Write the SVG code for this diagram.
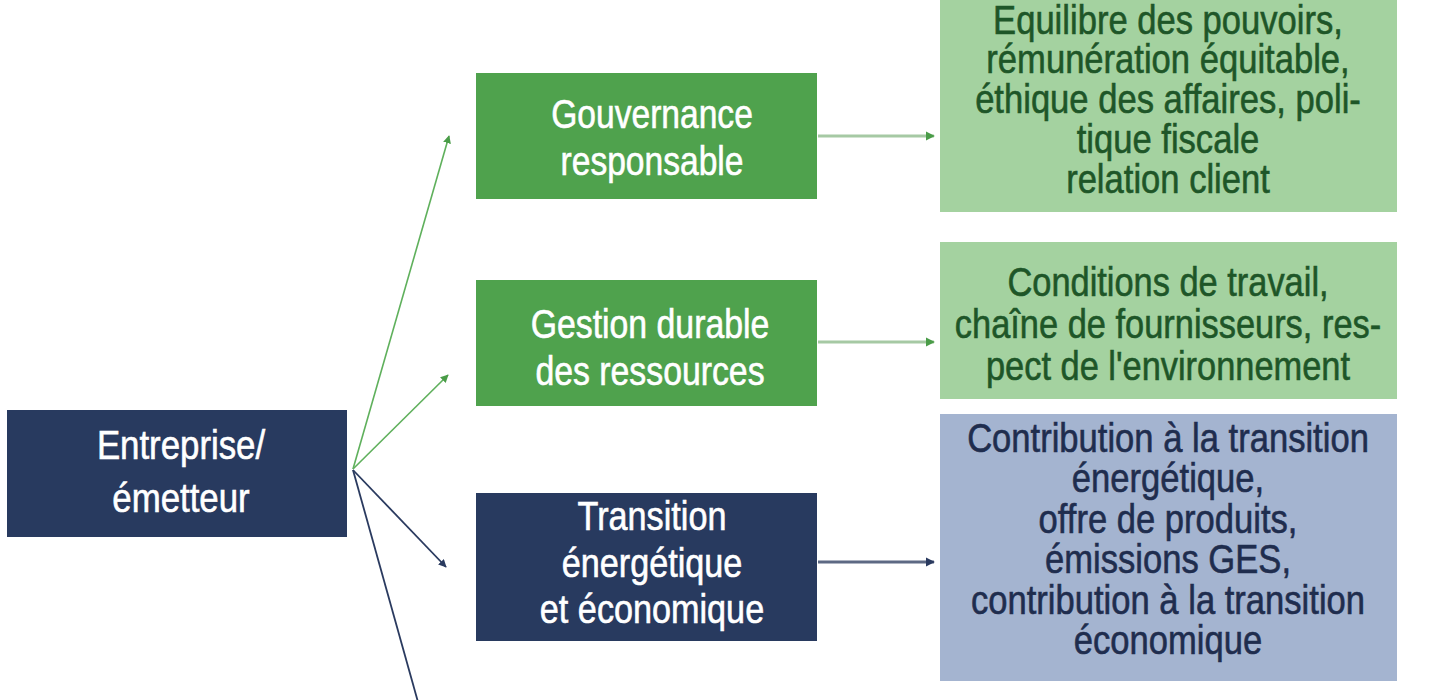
<svg xmlns="http://www.w3.org/2000/svg" width="1440" height="700" viewBox="0 0 1440 700">
<defs>
<style>
text { font-family: "Liberation Sans", Arial, sans-serif; text-anchor: middle; stroke-width: 0.6; }
.navy { fill: #283a5f; }
.green { fill: #4fa24d; }
.lgreen { fill: #a4d2a0; }
.lblue { fill: #a4b4d0; }
.wt { fill: #ffffff; stroke: #ffffff; font-size: 40px; }
.gt { fill: #1e5628; stroke: #1e5628; font-size: 40px; }
.bt { fill: #1f2d4e; stroke: #1f2d4e; font-size: 40px; }
.dg { stroke: #5fb05c; stroke-width: 1.6; fill: none; }
.dn { stroke: #2a3a5f; stroke-width: 1.8; fill: none; }
.hg { stroke: #a6c9a4; stroke-width: 3; fill: none; }
.hn { stroke: #5d6983; stroke-width: 3; fill: none; }
</style>
<marker id="ag" viewBox="0 0 10 10" refX="9" refY="5" markerWidth="8" markerHeight="8" markerUnits="userSpaceOnUse" orient="auto"><path d="M0,0 L10,5 L0,10 Z" fill="#4a9c48"/></marker>
<marker id="an" viewBox="0 0 10 10" refX="9" refY="5" markerWidth="8" markerHeight="8" markerUnits="userSpaceOnUse" orient="auto"><path d="M0,0 L10,5 L0,10 Z" fill="#2a3a5f"/></marker>
<marker id="ahg" viewBox="0 0 10 10" refX="9" refY="5" markerWidth="9" markerHeight="11" markerUnits="userSpaceOnUse" orient="auto"><path d="M0,0 L10,5 L0,10 Z" fill="#4a9c48"/></marker>
<marker id="ahn" viewBox="0 0 10 10" refX="9" refY="5" markerWidth="9" markerHeight="11" markerUnits="userSpaceOnUse" orient="auto"><path d="M0,0 L10,5 L0,10 Z" fill="#2a3a5f"/></marker>
</defs>
<rect width="1440" height="700" fill="#ffffff"/>
<g id="connectors">
<line class="dg" x1="353" y1="469" x2="449" y2="136" marker-end="url(#ag)"/>
<line class="dg" x1="353" y1="469" x2="448" y2="375" marker-end="url(#ag)"/>
<line class="dn" x1="353" y1="470" x2="446" y2="567" marker-end="url(#an)"/>
<line class="dn" x1="353" y1="470" x2="418" y2="702"/>
<line class="hg" x1="818" y1="136" x2="934" y2="136" marker-end="url(#ahg)"/>
<line class="hg" x1="818" y1="342" x2="934" y2="342" marker-end="url(#ahg)"/>
<line class="hn" x1="818" y1="562" x2="934" y2="562" marker-end="url(#ahn)"/>
</g>
<g id="entreprise">
<rect class="navy" x="7" y="410" width="340" height="127"/>
<g transform="translate(181 0) scale(0.87 1)">
<text class="wt" x="0" y="459">Entreprise/</text>
<text class="wt" x="0" y="512">émetteur</text>
</g>
</g>
<g id="gouvernance">
<rect class="green" x="476" y="73" width="341" height="126"/>
<g transform="translate(652 0) scale(0.84 1)">
<text class="wt" x="0" y="128">Gouvernance</text>
<text class="wt" x="0" y="175">responsable</text>
</g>
</g>
<g id="gestion">
<rect class="green" x="476" y="280" width="341" height="126"/>
<g transform="translate(650 0) scale(0.845 1)">
<text class="wt" x="0" y="338">Gestion durable</text>
<text class="wt" x="0" y="385">des ressources</text>
</g>
</g>
<g id="transition">
<rect class="navy" x="476" y="493" width="341" height="148"/>
<g transform="translate(652 0) scale(0.855 1)">
<text class="wt" x="0" y="530">Transition</text>
<text class="wt" x="0" y="577">énergétique</text>
<text class="wt" x="0" y="623">et économique</text>
</g>
</g>
<g id="detail-gouvernance">
<rect class="lgreen" x="940" y="-2" width="457" height="214"/>
<g transform="translate(1168 0) scale(0.865 1)">
<text class="gt" x="0" y="34">Equilibre des pouvoirs,</text>
<text class="gt" x="0" y="73">rémunération équitable,</text>
<text class="gt" x="0" y="113">éthique des affaires, poli-</text>
<text class="gt" x="0" y="153">tique fiscale</text>
<text class="gt" x="0" y="193">relation client</text>
</g>
</g>
<g id="detail-gestion">
<rect class="lgreen" x="940" y="242" width="457" height="157"/>
<g transform="translate(1168 0) scale(0.86 1)">
<text class="gt" x="0" y="296">Conditions de travail,</text>
<text class="gt" x="0" y="338">chaîne de fournisseurs, res-</text>
<text class="gt" x="0" y="380">pect de l'environnement</text>
</g>
</g>
<g id="detail-transition">
<rect class="lblue" x="940" y="414" width="457" height="267"/>
<g transform="translate(1168 0) scale(0.865 1)">
<text class="bt" x="0" y="452">Contribution à la transition</text>
<text class="bt" x="0" y="492">énergétique,</text>
<text class="bt" x="0" y="533">offre de produits,</text>
<text class="bt" x="0" y="573">émissions GES,</text>
<text class="bt" x="0" y="614">contribution à la transition</text>
<text class="bt" x="0" y="654">économique</text>
</g>
</g>
</svg>
